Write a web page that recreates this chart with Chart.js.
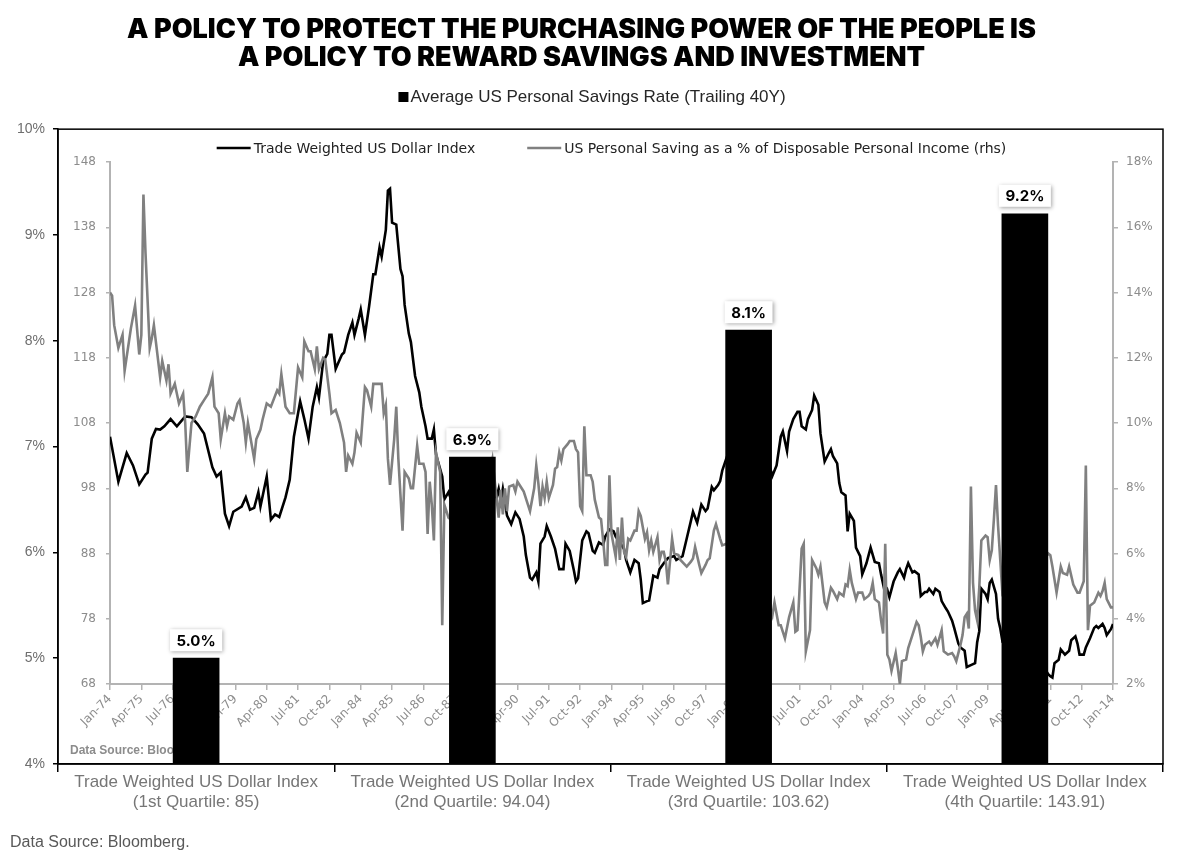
<!DOCTYPE html>
<html>
<head>
<meta charset="utf-8">
<title>Purchasing power and savings</title>
<script src="https://cdn.jsdelivr.net/npm/chart.js@4.4.1/dist/chart.umd.min.js"></script>
<style>
  body { margin: 0; background: #fff; }
  #wrap { position: relative; width: 1184px; height: 860px; }
  #lineChart { position: absolute; left: 59px; top: 130px; }
  #barChart { position: absolute; left: 0; top: 0; }
</style>
</head>
<body>
<div id="wrap">
  <canvas id="lineChart" width="1103" height="633"></canvas>
  <canvas id="barChart" width="1184" height="860"></canvas>
</div>
<script>
// Outer bar chart
const categories = [
  ["Trade Weighted US Dollar Index", "(1st Quartile: 85)"],
  ["Trade Weighted US Dollar Index", "(2nd Quartile: 94.04)"],
  ["Trade Weighted US Dollar Index", "(3rd Quartile: 103.62)"],
  ["Trade Weighted US Dollar Index", "(4th Quartile: 143.91)"],
];
const avgSavingsRate = [5.0, 6.9, 8.1, 9.2];

// Inner line chart: [months since Jan-74, value]
const monthNames = ["Jan", "Feb", "Mar", "Apr", "May", "Jun", "Jul", "Aug", "Sep", "Oct", "Nov", "Dec"];

const dollarIndex = [
  [0,105.9],[4,99.0],[8,103.4],[11,101.5],[14,98.6],[17,100.1],[18,100.4],[20,105.6],[22,107.1],[24,107.0],
  [26,107.5],[29,108.6],[32,107.5],[36,109.0],[39,108.9],[42,107.8],[45,106.4],[49,101.2],[51,99.8],[53,100.4],
  [55,94.1],[57,92.2],[59,94.4],[63,95.2],[65,96.6],[67,94.7],[69,95.0],[71,97.4],[72,95.2],[75,99.8],
  [77,93.2],[79,94.0],[81,93.6],[84,96.6],[86,99.3],[88,105.9],[91,111.3],[93,108.6],[95,105.6],[97,110.5],
  [99,113.5],[100,111.9],[102,117.4],[104,118.6],[105,121.5],[106,121.5],[108,116.3],[111,118.5],[112,118.8],[114,121.5],
  [116,123.4],[117,121.5],[119,124.0],[120,125.4],[122,121.5],[124,125.9],[126,130.8],[127,130.8],[129,134.9],[130,133.5],
  [132,137.6],[133,143.6],[134,143.9],[135,138.7],[137,138.4],[139,131.6],[140,130.5],[141,126.1],[143,121.7],[144,120.4],
  [146,115.2],[148,112.7],[149,110.5],[151,107.5],[152,105.6],[154,105.6],[155,107.0],[156,103.2],[159,99.8],[160,96.3],
  [162,97.4],[164,95.5],[167,90.0],[170,88.5],[173,91.5],[176,95.0],[179,92.5],[182,95.5],[184,97.0],[185,96.6],
  [186,97.9],[187,96.0],[188,97.9],[190,93.8],[192,92.5],[194,94.3],[196,93.3],[198,90.6],[199,87.8],[201,84.3],
  [202,84.0],[204,85.1],[205,83.7],[206,89.5],[208,90.6],[209,92.2],[211,90.6],[213,88.7],[215,85.6],[217,85.6],
  [218,89.5],[220,88.4],[222,85.4],[223,83.7],[224,84.2],[226,90.0],[228,91.4],[229,91.1],[231,88.4],[232,88.1],
  [234,89.7],[236,89.3],[237,90.6],[239,91.7],[241,91.4],[242,90.6],[244,89.7],[246,88.7],[247,87.0],[249,85.1],
  [251,87.0],[253,86.5],[254,84.0],[255,80.4],[257,80.7],[258,80.8],[260,84.6],[262,84.3],[263,85.6],[265,86.5],
  [267,87.3],[270,87.6],[271,87.0],[273,87.4],[274,87.6],[276,90.3],[278,93.0],[279,94.4],[281,92.7],[283,95.5],
  [285,94.5],[286,94.9],[288,98.2],[289,97.7],[291,98.5],[292,99.1],[293,100.7],[295,102.6],[297,100.5],[299,96.0],
  [302,97.5],[305,99.5],[308,100.5],[311,98.5],[313,99.5],[316,101.0],[317,99.9],[319,101.5],[321,105.9],[322,106.7],
  [324,103.7],[325,106.7],[327,108.6],[329,109.7],[330,109.7],[331,107.5],[333,107.0],[334,108.6],[336,110.0],[337,112.2],
  [339,110.8],[340,106.4],[342,102.1],[344,103.4],[345,104.0],[346,102.9],[348,101.8],[349,98.8],[350,97.4],[352,96.9],
  [353,91.4],[354,94.1],[356,93.0],[357,88.9],[359,87.6],[360,84.8],[362,86.5],[364,88.9],[366,86.7],[368,86.5],
  [369,84.8],[371,81.8],[372,82.4],[373,81.3],[375,83.7],[377,85.1],[378,85.6],[380,84.3],[381,85.6],[382,86.5],
  [384,85.1],[385,85.3],[387,84.8],[388,81.5],[390,82.1],[391,82.1],[392,82.6],[394,81.8],[395,82.6],[397,82.1],
  [398,80.7],[400,79.6],[401,79.1],[403,77.7],[404,76.6],[406,74.2],[407,73.6],[409,73.1],[410,70.6],[412,70.9],
  [414,71.2],[415,74.4],[416,76.1],[417,82.6],[419,81.8],[420,81.0],[421,83.5],[422,84.0],[424,81.8],[425,78.0],
  [426,76.6],[427,74.7],[429,75.5],[431,74.0],[434,76.0],[437,78.5],[439,76.5],[441,73.5],[443,74.5],[445,73.0],
  [447,70.5],[449,69.5],[450,69.2],[451,69.0],[452,71.2],[454,71.7],[455,73.3],[457,72.5],[459,73.1],[460,74.7],
  [462,75.3],[463,74.2],[464,72.5],[466,72.5],[467,73.6],[469,75.0],[471,76.6],[472,76.9],[473,76.6],[475,77.2],
  [476,76.6],[477,75.5],[479,76.4],[480,77.2],
];

const savingRate = [
  [0,14.0],[1,13.9],[2,13.0],[4,12.3],[6,12.7],[7,11.6],[10,12.9],[12,13.6],[14,12.1],[15,12.7],
  [16,17.0],[17,15.2],[19,12.3],[20,12.6],[21,13.0],[24,11.4],[25,11.9],[27,11.3],[28,11.8],[29,10.9],
  [31,11.2],[33,10.6],[35,10.9],[36,10.0],[37,8.5],[39,10.0],[41,10.2],[43,10.5],[45,10.7],[47,10.9],
  [49,11.4],[50,10.5],[52,10.3],[53,9.5],[55,10.3],[56,9.9],[57,10.2],[59,10.1],[61,10.6],[62,10.7],
  [64,10.0],[65,9.4],[66,10.0],[69,8.9],[70,9.5],[72,9.8],[73,10.1],[75,10.6],[77,10.5],[80,11.0],
  [81,10.9],[82,11.5],[84,10.5],[86,10.3],[88,10.3],[90,11.7],[92,11.4],[93,12.5],[95,12.2],[96,12.2],
  [98,11.65],[99,12.35],[100,11.65],[102,12.0],[103,11.95],[105,10.9],[106,10.3],[108,10.4],[110,10.0],[112,9.4],
  [113,8.5],[114,9.0],[116,8.75],[117,9.1],[118,9.7],[120,9.4],[122,11.1],[123,11.0],[125,10.5],[126,11.2],
  [128,11.2],[130,11.2],[131,10.3],[132,10.55],[133,8.9],[134,8.1],[136,9.5],[137,10.5],[138,8.9],[139,7.8],
  [140,6.7],[141,8.5],[143,8.3],[144,8.0],[145,8.0],[147,9.3],[148,8.75],[150,8.75],[151,8.5],[152,6.6],
  [153,8.2],[154,7.5],[155,6.4],[156,9.1],[158,8.5],[159,3.8],[160,7.5],[162,7.1],[164,7.0],[167,7.9],
  [170,7.5],[173,7.6],[176,7.8],[179,7.7],[181,8.3],[183,8.9],[185,7.7],[186,7.1],[187,7.95],[188,7.2],
  [189,8.0],[190,7.3],[191,8.05],[193,8.1],[194,7.9],[195,8.2],[197,8.0],[198,7.9],[200,7.5],[201,7.3],
  [203,8.0],[204,8.7],[205,8.15],[206,7.45],[207,8.05],[208,7.7],[209,8.2],[210,7.7],[212,8.1],[213,8.6],
  [214,8.65],[215,9.1],[216,8.85],[217,9.2],[219,9.35],[220,9.45],[222,9.45],[223,9.2],[224,9.1],[225,7.45],
  [226,7.3],[227,9.9],[228,8.4],[230,8.4],[231,8.2],[232,7.65],[234,7.1],[235,7.05],[236,6.4],[237,5.65],
  [238,5.65],[239,8.4],[240,6.6],[242,5.9],[243,6.8],[244,5.8],[245,7.1],[246,6.05],[247,5.9],[248,6.45],
  [249,6.4],[251,6.7],[252,6.7],[253,7.3],[254,7.15],[256,6.45],[257,6.65],[258,6.1],[259,6.4],[260,6.05],
  [262,6.5],[263,5.8],[264,6.05],[265,6.05],[266,5.75],[267,5.05],[269,6.45],[270,6.0],[272,5.95],[273,5.8],
  [276,5.6],[278,5.75],[279,5.85],[280,6.2],[282,5.65],[283,5.4],[285,5.65],[286,5.8],[287,5.85],[289,6.7],
  [290,6.9],[292,6.45],[293,6.25],[295,6.3],[298,5.9],[301,5.5],[304,5.1],[307,4.8],[310,4.6],[313,4.4],
  [316,4.3],[317,4.1],[318,4.5],[320,3.8],[321,3.8],[323,3.4],[325,4.05],[327,4.5],[328,3.6],[329,3.65],
  [331,6.15],[332,6.3],[333,3.0],[335,3.65],[336,5.8],[338,5.55],[339,5.35],[340,5.6],[342,4.5],[343,4.35],
  [345,4.95],[346,4.85],[348,4.6],[349,4.8],[351,4.7],[352,5.05],[353,5.0],[354,5.5],[355,5.1],[357,4.6],
  [358,4.8],[360,4.8],[361,4.6],[363,4.7],[364,4.8],[365,5.1],[366,4.6],[368,4.5],[369,3.95],[370,3.55],
  [371,6.3],[372,2.9],[373,2.75],[374,2.4],[376,2.95],[377,2.5],[378,2.0],[379,2.7],[381,2.75],[382,3.1],
  [384,3.5],[386,3.9],[387,3.8],[388,3.45],[389,3.0],[390,3.2],[392,3.3],[393,3.2],[395,3.4],[396,3.2],
  [398,3.65],[399,3.0],[401,2.9],[403,2.95],[404,2.85],[405,2.7],[407,3.2],[408,3.5],[409,4.05],[410,4.15],
  [411,3.7],[412,8.05],[413,5.1],[414,4.25],[415,3.95],[416,4.95],[417,6.4],[419,6.55],[420,6.5],[421,5.8],
  [422,6.1],[423,7.05],[424,8.1],[425,6.85],[426,5.85],[427,4.85],[429,5.2],[432,5.4],[435,5.7],[438,6.0],
  [441,5.7],[444,5.5],[447,5.8],[449,6.0],[450,5.95],[451,5.6],[453,4.8],[455,5.6],[456,5.4],[458,5.35],
  [459,5.6],[461,5.05],[463,4.8],[464,4.8],[466,5.15],[467,8.7],[468,3.65],[469,4.4],[471,4.5],[473,4.8],
  [474,4.7],[475,4.85],[476,5.1],[477,4.6],[479,4.35],[480,4.35],
];

const tickGray = "#8c8c8c";
const axisGray = "#b3b3b3";

function monthLabel(m) {
  const year = 1974 + Math.floor(m / 12);
  return monthNames[m % 12] + "-" + String(year % 100).padStart(2, "0");
}

function toPoints(series) {
  return series.map(([m, v]) => ({ x: m, y: v }));
}

// Legend and source note inside the inset chart
const innerDecor = {
  id: "innerDecor",
  afterDraw(chart) {
    const { ctx, chartArea } = chart;
    ctx.save();
    ctx.font = '14px "DejaVu Sans"';
    ctx.textBaseline = "middle";
    const lineLen = 34;
    const gap = 3;
    const spacing = 52;
    const items = chart.data.datasets.map((d) => ({
      text: d.label,
      color: d.borderColor,
      width: ctx.measureText(d.label).width,
    }));
    const total =
      items.reduce((sum, it) => sum + lineLen + gap + it.width, 0) +
      spacing * (items.length - 1);
    let x = (chartArea.left + chartArea.right) / 2 - total / 2;
    const y = 18;
    items.forEach((it) => {
      ctx.strokeStyle = it.color;
      ctx.lineWidth = 2.6;
      ctx.beginPath();
      ctx.moveTo(x, y);
      ctx.lineTo(x + lineLen, y);
      ctx.stroke();
      ctx.fillStyle = "#222";
      ctx.fillText(it.text, x + lineLen + gap, y + 1);
      x += lineLen + gap + it.width + spacing;
    });

    ctx.font = 'bold 12px "Liberation Sans"';
    ctx.fillStyle = tickGray;
    ctx.fillText("Data Source: Bloomberg.", 11, 621);
    ctx.restore();
  },
};

const lineChart = new Chart(document.getElementById("lineChart"), {
  type: "line",
  data: {
    datasets: [
      {
        label: "Trade Weighted US Dollar Index",
        data: toPoints(dollarIndex),
        borderColor: "#000",
        borderWidth: 2.6,
        yAxisID: "yL",
      },
      {
        label: "US Personal Saving as a % of Disposable Personal Income (rhs)",
        data: toPoints(savingRate),
        borderColor: "#808080",
        borderWidth: 2.6,
        yAxisID: "yR",
        order: -1,
      },
    ],
  },
  options: {
    responsive: false,
    animation: false,
    layout: { padding: { top: 32, left: 0, right: 0, bottom: 0 } },
    elements: { point: { radius: 0 }, line: { tension: 0 } },
    plugins: { legend: { display: false }, tooltip: { enabled: false } },
    scales: {
      x: {
        type: "linear",
        min: 0,
        max: 480,
        ticks: {
          stepSize: 15,
          maxTicksLimit: 40,
          autoSkip: false,
          minRotation: 45,
          maxRotation: 45,
          padding: 2,
          color: tickGray,
          font: { family: "DejaVu Sans", size: 12 },
          callback: (value) => monthLabel(value),
        },
        grid: { drawOnChartArea: false, tickLength: 6, color: axisGray, lineWidth: 1.5 },
        border: { color: axisGray, width: 2 },
        afterFit: (scale) => { scale.height = 79; },
      },
      yL: {
        position: "left",
        min: 68,
        max: 148,
        ticks: {
          stepSize: 10,
          padding: 10,
          color: tickGray,
          font: { family: "DejaVu Sans", size: 12 },
        },
        grid: { drawOnChartArea: false, tickLength: 4, color: axisGray, lineWidth: 1.5 },
        border: { color: axisGray, width: 2 },
        afterFit: (scale) => { scale.width = 51; },
      },
      yR: {
        position: "right",
        min: 2,
        max: 18,
        ticks: {
          stepSize: 2,
          padding: 8,
          color: tickGray,
          font: { family: "DejaVu Sans", size: 12 },
          callback: (value) => value + "%",
        },
        grid: { drawOnChartArea: false, tickLength: 5, color: axisGray, lineWidth: 1.5 },
        border: { color: axisGray, width: 2 },
        afterFit: (scale) => { scale.width = 49; },
      },
    },
  },
  plugins: [innerDecor],
});

// Value boxes above the bars
const barValueLabels = {
  id: "barValueLabels",
  afterDatasetsDraw(chart) {
    const { ctx } = chart;
    const meta = chart.getDatasetMeta(0);
    ctx.save();
    ctx.font = "700 15px Inter";
    ctx.textAlign = "center";
    ctx.textBaseline = "middle";
    meta.data.forEach((bar, i) => {
      const text = avgSavingsRate[i].toFixed(1) + "%";
      const w = ctx.measureText(text).width + 13;
      const h = 22;
      const x = bar.x - w / 2;
      const y = bar.y - 7 - h;
      ctx.shadowColor = "rgba(0,0,0,0.35)";
      ctx.shadowBlur = 4;
      ctx.shadowOffsetX = 1;
      ctx.shadowOffsetY = 1;
      ctx.fillStyle = "#fff";
      ctx.fillRect(x, y, w, h);
      ctx.shadowColor = "transparent";
      ctx.fillStyle = "#000";
      ctx.fillText(text, bar.x, y + h / 2 + 1);
    });
    ctx.restore();
  },
};

// Frame, legend and footer of the outer chart
const outerDecor = {
  id: "outerDecor",
  afterDraw(chart) {
    const { ctx, chartArea } = chart;
    ctx.save();
    ctx.strokeStyle = "#000";
    ctx.lineWidth = 1.5;
    ctx.strokeRect(
      chartArea.left,
      chartArea.top,
      chartArea.right - chartArea.left,
      chartArea.bottom - chartArea.top
    );

    const label = chart.data.datasets[0].label;
    ctx.font = '17px "Liberation Sans"';
    ctx.textBaseline = "middle";
    const tw = ctx.measureText(label).width;
    const box = 10;
    const gap = 2;
    const x0 = chart.width / 2 - (box + gap + tw) / 2;
    const cy = 97;
    ctx.fillStyle = "#000";
    ctx.fillRect(x0, cy - box / 2, box, box);
    ctx.fillStyle = "#262626";
    ctx.fillText(label, x0 + box + gap, cy);

    ctx.font = '16px "Liberation Sans"';
    ctx.fillStyle = "#595959";
    ctx.fillText("Data Source: Bloomberg.", 10, 843);
    ctx.restore();
  },
};

const barChart = new Chart(document.getElementById("barChart"), {
  type: "bar",
  data: {
    labels: categories,
    datasets: [
      {
        label: "Average US Personal Savings Rate (Trailing 40Y)",
        data: avgSavingsRate,
        backgroundColor: "#000",
        barThickness: 46,
      },
    ],
  },
  options: {
    responsive: false,
    animation: false,
    layout: { padding: { top: 0, left: 0, right: 21, bottom: 0 } },
    plugins: {
      legend: { display: false },
      tooltip: { enabled: false },
      title: {
        display: true,
        text: [
          "A POLICY TO PROTECT THE PURCHASING POWER OF THE PEOPLE IS",
          "A POLICY TO REWARD SAVINGS AND INVESTMENT",
        ],
        color: "#000",
        font: { family: "Inter", size: 27, weight: "900", lineHeight: 1.04 },
        padding: { top: 16, bottom: 57 },
      },
    },
    scales: {
      x: {
        ticks: {
          color: "#767676",
          font: { family: "Liberation Sans", size: 17 },
          padding: 0,
          maxRotation: 0,
          autoSkip: false,
        },
        grid: { drawOnChartArea: false, tickLength: 8, color: "#000", lineWidth: 1.5 },
        border: { color: "#000", width: 1.5 },
        afterFit: (scale) => { scale.height = 96; },
      },
      y: {
        min: 4,
        max: 10,
        ticks: {
          stepSize: 1,
          padding: 8,
          color: "#6e6e6e",
          font: { family: "Liberation Sans", size: 14 },
          callback: (value) => value + "%",
        },
        grid: { drawOnChartArea: false, tickLength: 5, color: "#000", lineWidth: 1.5 },
        border: { color: "#000", width: 1.5 },
        afterFit: (scale) => { scale.width = 58; },
      },
    },
  },
  plugins: [barValueLabels, outerDecor],
});
</script>
</body>
</html>
